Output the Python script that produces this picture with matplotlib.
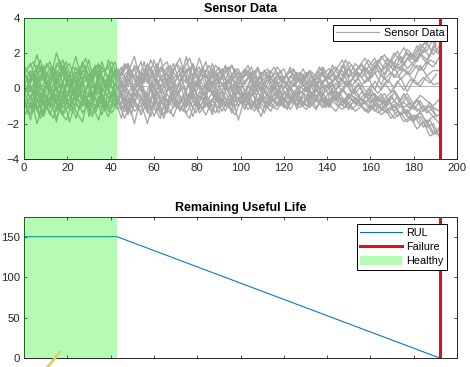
import numpy as np
import matplotlib
matplotlib.use('Agg')
import matplotlib.pyplot as plt
from matplotlib.lines import Line2D
from matplotlib.patches import Patch

plt.rcParams['font.family'] = ['Liberation Sans', 'DejaVu Sans']

# sensor values read every 3 cycles
cycles = np.arange(0, 193, 3)
s01 = [1.3,0.6,1.9,0.4,1.2,-0.2,1.0,1.4,0.3,1.5,0.6,1.1,0.2,
       1.6,0.5,1.2,0.1,1.3,0.7,1.0,0.0,1.2,0.4,1.4,0.3,0.9,
       1.3,0.2,1.0,0.6,1.2,0.1,0.8,1.1,0.2,0.9,0.5,1.0,0.3,
       0.7,1.1,0.2,0.9,0.6,1.0,0.3,0.8,1.1,0.5,1.3,0.7,1.4,
       1.0,1.6,1.1,1.8,1.3,2.0,1.5,2.2,1.8,2.5,2.1,2.8,2.6]
s02 = [0.8,1.4,0.2,1.1,0.5,2.0,0.7,0.1,1.2,0.4,1.6,-0.1,1.2,
       0.6,1.5,0.0,0.9,1.8,0.3,1.3,0.5,1.7,0.2,1.0,1.7,0.4,
       0.8,1.2,0.0,1.4,0.3,0.9,1.3,0.2,0.7,1.2,0.1,0.8,1.0,
       0.2,0.6,1.0,0.4,1.1,0.2,0.8,1.2,0.5,1.0,1.6,0.6,1.0,
       1.3,0.8,1.5,1.0,1.7,1.2,1.4,2.0,1.6,2.3,2.6,1.9,2.4]
s03 = [0.2,1.0,-0.3,0.9,1.5,0.2,1.3,-0.1,0.8,1.3,0.1,1.0,0.6,
       -0.2,1.1,0.7,1.4,-0.1,0.9,0.3,1.6,0.5,-0.2,0.9,0.4,1.8,
       0.0,0.7,1.5,0.1,0.8,1.2,-0.1,0.6,1.0,0.3,1.1,-0.1,0.6,
       0.9,0.0,0.7,0.3,0.8,-0.1,0.6,0.9,0.2,0.7,0.4,1.1,0.3,
       0.9,0.5,1.3,0.7,1.0,1.5,1.0,1.7,1.3,2.0,1.6,2.2,1.9]
s04 = [1.0,-0.2,0.8,1.3,-0.3,0.7,1.6,0.3,-0.2,1.0,0.8,-0.1,1.5,
       0.4,0.9,-0.3,0.7,1.1,-0.2,1.4,0.6,-0.1,1.2,0.3,0.8,-0.2,
       1.4,0.5,-0.1,1.0,0.2,1.3,0.4,0.9,-0.2,0.6,1.2,0.2,-0.1,
       0.8,0.4,1.2,0.0,0.5,0.9,0.1,1.1,0.0,0.6,1.0,0.2,0.8,
       1.4,0.4,0.9,0.2,1.1,0.6,1.2,0.8,1.3,1.0,1.5,1.2,1.8]
s05 = [-0.3,0.5,1.1,-0.5,0.3,1.0,-0.4,0.6,0.9,-0.6,0.4,1.2,-0.3,
       0.7,-0.5,0.5,1.0,-0.4,0.2,0.9,-0.6,0.6,0.8,-0.5,0.3,1.1,
       -0.3,0.4,0.8,-0.4,0.5,-0.1,0.7,-0.3,0.4,0.8,-0.2,0.3,0.7,
       -0.3,0.5,-0.1,0.6,0.1,0.5,-0.2,0.4,0.7,-0.1,0.5,0.1,0.9,
       0.2,0.6,-0.1,0.8,0.3,1.2,0.5,0.9,0.4,1.3,0.7,1.0,1.0]
s06 = [-1.0,0.1,-0.6,-1.4,0.2,-0.8,0.4,-1.1,-0.1,-0.7,0.5,-1.2,0.0,
       -0.5,-1.0,0.3,-0.9,-0.2,0.6,-1.1,-0.3,0.2,-0.8,-0.1,0.4,-1.0,
       0.1,-0.6,-0.2,0.4,-0.9,0.0,-0.5,0.3,-0.7,-0.1,0.4,-0.6,0.1,
       -0.4,0.4,-0.6,0.0,-0.3,0.3,-0.5,0.1,-0.4,0.3,-0.2,0.4,-0.3,
       0.2,-0.4,0.4,-0.1,0.5,0.0,0.6,-0.2,0.5,0.1,0.7,0.2,0.3]
s07 = [-0.6,-1.8,-0.3,-1.0,-0.2,-1.3,-0.4,-1.9,-0.7,-0.1,-1.1,-0.5,-1.5,
       -0.2,-0.9,-0.4,-1.4,-0.3,-0.8,-2.0,-0.6,-0.1,-1.2,-0.5,-0.9,-0.3,
       -1.1,-0.2,-0.8,-1.3,-0.4,-0.9,-0.1,-1.0,-0.4,-0.7,-1.1,0.0,-0.6,
       -0.9,-0.2,-0.7,-0.3,-0.9,-0.1,-0.6,-0.8,-0.2,-0.7,-0.1,-0.5,-0.8,
       -0.2,-0.6,-0.3,-0.8,-0.4,-0.1,-0.7,-0.3,-0.9,-0.4,-0.7,-1.0,-0.6]
s08 = [-1.2,-0.4,-2.0,-0.7,-1.5,-0.3,-1.1,-0.6,-1.7,-0.5,-1.3,-0.2,-0.9,
       -1.6,-0.4,-1.2,-0.7,-2.0,-0.5,-1.0,-0.3,-1.5,-0.6,-1.1,-0.4,-1.4,
       -0.7,-1.2,-0.3,-1.0,-0.6,-1.3,-0.4,-1.8,-0.5,-1.2,-0.2,-0.9,-1.3,
       -0.4,-0.9,-0.3,-1.0,-0.5,-0.8,-1.2,-0.3,-0.8,-0.5,-1.0,-0.4,-0.9,
       -0.6,-1.1,-0.5,-1.2,-0.7,-1.1,-0.9,-1.4,-1.0,-1.3,-1.2,-1.6,-1.5]
s09 = [-0.2,-1.1,-0.6,-1.6,-0.5,-1.9,-0.2,-1.2,-0.4,-1.0,-0.7,-1.4,-0.3,
       -1.1,-0.6,-1.7,-0.2,-0.9,-1.3,-0.4,-1.6,-0.7,-1.0,-0.2,-1.3,-0.5,
       -1.6,-0.4,-1.0,-0.6,-1.4,-0.2,-1.0,-0.5,-1.2,-0.3,-0.8,-1.4,-0.4,
       -1.0,-0.5,-1.2,-0.6,-1.0,-0.4,-1.1,-0.5,-0.9,-1.3,-0.7,-1.1,-0.6,
       -1.0,-1.3,-0.8,-1.2,-1.4,-1.0,-1.5,-1.2,-1.7,-1.4,-1.9,-1.6,-2.0]
s10 = [-1.6,-0.8,-1.2,-0.4,-1.1,-0.7,-1.5,-0.9,-0.3,-1.4,-0.8,-1.0,-0.5,
       -1.3,-0.9,-0.2,-1.2,-0.6,-1.5,-0.8,-0.4,-1.3,-0.9,-1.6,-0.6,-1.1,
       -0.3,-0.9,-1.5,-0.7,-1.1,-0.5,-1.4,-0.7,-0.3,-1.0,-0.6,-1.1,-0.8,
       -0.4,-1.1,-0.6,-0.9,-0.3,-1.0,-0.7,-1.1,-0.6,-0.9,-1.2,-0.8,-1.3,
       -1.0,-1.4,-0.9,-1.5,-1.2,-1.7,-1.4,-1.9,-1.5,-2.1,-1.8,-2.5,-2.4]
s11 = [0.4,-0.6,0.6,-0.2,-1.0,0.5,-0.4,0.7,-0.8,0.2,-0.5,0.9,-0.7,
       0.3,-0.2,-0.9,0.6,-0.5,0.1,-0.8,0.7,-0.3,0.4,-0.9,0.0,0.6,
       -0.6,0.2,-0.4,0.8,-0.6,0.3,-0.8,0.1,-0.4,0.5,-0.7,0.2,-0.3,
       0.4,-0.7,0.1,-0.5,0.4,-0.6,0.2,-0.4,0.3,-0.7,0.0,-0.5,-0.1,
       -0.7,-0.3,-1.0,-0.5,-1.2,-0.9,-1.5,-1.3,-1.8,-1.6,-2.2,-2.0,-2.8]
s12 = [-0.8,-1.5,0.2,-0.9,-0.5,-1.7,-0.7,-0.2,-1.3,-1.9,-0.2,-0.7,-1.1,
       -0.8,-0.3,-1.1,-0.6,-1.3,-1.0,-0.3,-1.1,-1.7,-0.3,-0.9,-1.2,-0.7,
       -0.2,-1.4,-0.9,-0.2,-0.7,-1.0,-0.6,-0.2,-1.0,-0.8,-1.2,-0.5,-1.0,
       -1.2,-0.6,-0.9,-0.2,-0.8,-1.1,-0.6,-0.2,-1.1,-0.4,-0.6,-1.2,-0.5,
       -0.9,-0.7,-1.3,-0.9,-0.6,-1.3,-1.0,-1.6,-1.9,-1.3,-2.0,-2.6,-2.2]
s13 = [0.9,0.3,1.3,0.7,0.0,1.4,0.9,0.6,1.8,0.2,0.7,1.3,0.9,
       1.2,0.1,0.8,1.4,0.6,1.5,0.3,0.8,1.1,1.5,0.5,1.1,0.7,
       0.5,1.7,0.6,1.1,0.7,0.5,1.3,0.6,1.1,0.7,0.4,1.0,0.5,
       1.2,0.6,0.9,0.7,0.4,1.0,0.7,0.3,0.9,1.2,0.7,1.5,1.0,
       0.6,1.2,1.7,0.9,1.4,1.0,1.8,1.1,1.5,1.9,1.4,2.4,2.0]
s14 = [-0.4,0.2,-1.3,-0.1,-0.9,0.1,-1.5,0.0,-0.6,0.6,-1.6,0.2,-0.5,
       -0.9,0.3,-0.6,-1.5,0.0,-0.4,-1.4,0.1,-0.6,-1.4,0.3,-0.5,-0.8,
       0.4,-1.1,-0.4,-1.5,0.2,-0.6,-1.2,-0.1,-0.8,0.2,-1.3,-0.2,-0.7,
       -0.1,-0.8,0.1,-1.2,-0.3,-0.5,0.0,-0.7,-1.0,-0.1,-0.8,-0.3,-0.6,
       -1.0,0.0,-0.8,-0.3,-1.0,-0.2,-0.9,-0.5,-1.2,-0.7,-1.4,-1.1,-1.3]

# second group, read half way between the first group's cycles
cycles_b = np.arange(1.5, 192, 3)
t01 = [1.1,1.5,0.5,1.4,0.8,1.6,0.3,1.2,0.9,1.7,0.4,1.3,1.0,
       1.5,0.6,1.4,0.9,1.2,0.3,1.6,0.8,1.1,0.5,1.4,1.0,1.7,
       0.6,1.2,0.4,1.3,0.8,0.3,1.1,0.6,1.3,0.2,0.9,0.6,1.2,
       0.4,0.8,1.1,0.3,0.9,0.5,1.2,0.4,1.3,0.7,1.6,0.8,1.2,
       1.7,1.0,1.4,1.9,1.2,1.7,2.3,1.6,2.4,2.0,2.9,2.4]
t02 = [0.3,0.9,-0.1,0.6,1.2,0.0,0.8,0.4,1.1,-0.2,0.7,1.0,0.2,
       1.2,-0.1,0.6,0.9,0.1,0.7,1.2,0.3,0.8,-0.1,0.5,1.1,0.2,
       0.7,-0.1,0.6,0.9,0.2,0.5,-0.1,0.6,0.8,0.0,0.4,0.7,-0.1,
       0.4,0.7,0.1,0.5,-0.1,0.4,0.6,0.0,0.4,0.7,0.2,0.5,0.9,
       0.3,0.7,1.0,0.5,0.9,0.6,1.1,0.8,1.3,1.0,1.6,1.4]
t03 = [-0.3,0.2,-0.6,0.4,-0.2,-0.8,0.3,-0.4,0.5,-0.7,0.1,-0.3,0.5,
       -0.5,0.2,-0.7,0.0,0.4,-0.6,0.3,-0.2,-0.7,0.4,-0.3,0.1,-0.6,
       0.3,-0.4,0.2,-0.6,0.3,-0.2,0.4,-0.5,0.1,-0.3,0.3,-0.5,0.2,
       -0.3,0.3,-0.4,0.1,-0.2,0.3,-0.4,0.2,-0.3,0.1,0.4,-0.2,0.3,
       -0.4,0.2,-0.3,0.3,-0.2,0.4,-0.1,0.5,0.2,0.6,0.3,0.8]
t04 = [-1.1,-0.5,-1.5,-0.8,-0.2,-1.2,-0.6,-1.4,-0.3,-0.9,-1.6,-0.5,-1.1,
       -0.3,-0.8,-1.3,-0.4,-1.0,-0.2,-1.2,-0.7,-1.5,-0.4,-0.9,-1.3,-0.3,
       -1.0,-0.5,-1.2,-0.2,-0.8,-1.1,-0.4,-0.9,-0.2,-1.1,-0.6,-0.9,-0.3,
       -0.8,-1.1,-0.4,-0.7,-1.0,-0.3,-0.6,-1.0,-0.4,-0.8,-1.1,-0.6,-1.0,
       -0.7,-1.2,-0.9,-1.3,-1.1,-1.6,-1.2,-1.8,-1.5,-2.2,-1.8,-2.6]
t05 = [-0.7,-1.3,-0.2,-1.0,-1.7,-0.4,-0.9,-0.3,-1.2,-0.6,-1.0,-1.8,-0.3,
       -0.8,-1.2,-0.5,-1.5,-0.3,-0.9,-1.3,-0.2,-1.7,-0.6,-1.1,-0.4,-0.8,
       -1.4,-0.2,-0.9,-0.5,-1.3,-0.6,-1.1,-0.3,-0.8,-1.3,-0.4,-1.1,-0.6,
       -1.0,-0.3,-0.8,-1.1,-0.5,-0.9,-0.2,-1.0,-0.6,-0.2,-0.8,-0.4,-0.7,
       -0.3,-0.8,-0.5,-0.9,-0.4,-1.0,-0.8,-1.2,-0.7,-1.3,-1.0,-1.2]
t06 = [0.6,-0.4,1.2,0.0,0.9,-0.5,1.1,-0.2,0.6,1.3,-0.4,0.8,0.1,
       0.7,1.1,-0.3,1.0,0.3,1.5,-0.2,0.8,0.4,1.3,-0.1,0.7,1.2,
       0.1,1.0,-0.2,0.7,1.1,-0.1,0.9,0.2,0.6,1.0,-0.1,0.8,0.3,
       1.0,-0.1,0.5,0.9,0.2,0.7,-0.1,0.6,1.0,0.3,0.9,0.1,0.7,
       1.1,0.6,1.3,0.8,1.6,1.1,1.4,1.9,1.5,2.2,1.8,2.7]
t07 = [-1.4,-0.7,-1.7,-1.0,-0.5,-1.3,-1.8,-0.8,-1.1,-0.4,-1.4,-0.9,-0.6,
       -1.4,-0.8,-1.7,-0.6,-1.2,-0.8,-1.6,-0.5,-1.0,-1.4,-0.7,-1.2,-1.7,
       -0.5,-1.2,-0.8,-1.4,-0.6,-1.0,-1.5,-0.6,-1.2,-0.7,-1.6,-0.5,-1.1,
       -0.7,-1.2,-0.5,-0.9,-1.2,-0.5,-0.8,-1.1,-0.5,-1.0,-0.6,-1.2,-0.8,
       -1.3,-1.0,-1.4,-1.1,-1.7,-1.3,-1.9,-1.6,-2.3,-1.9,-2.7,-2.5]
t08 = [0.0,0.7,-0.8,0.4,-0.3,0.9,-0.6,0.5,-0.1,0.8,-0.9,0.3,-0.2,
       0.6,-0.7,0.2,-0.4,0.7,-0.1,-0.8,0.5,-0.3,0.7,-0.5,0.1,-0.9,
       0.4,-0.2,0.6,-0.5,-0.1,0.5,-0.4,0.2,-0.6,0.4,-0.2,0.5,-0.4,
       0.2,-0.5,0.3,-0.3,0.1,-0.5,0.4,-0.2,0.2,-0.5,0.3,-0.3,0.2,
       -0.5,-0.1,-0.7,-0.3,-0.9,-0.5,-1.1,-0.8,-1.3,-1.0,-1.1,-1.6]
t09 = [1.0,0.4,1.6,0.2,1.1,0.7,1.5,0.1,1.2,0.5,0.9,1.4,0.0,
       1.0,0.4,1.3,0.8,0.1,1.1,0.6,1.4,0.2,0.9,1.3,0.5,0.1,
       1.1,0.7,1.3,0.2,0.8,1.2,0.3,0.6,1.0,0.1,0.8,1.1,0.2,
       0.7,0.2,1.0,0.5,0.8,0.2,0.9,0.5,0.8,0.2,1.0,1.3,0.6,
       1.2,0.8,1.6,1.1,1.5,2.1,1.3,2.0,1.7,2.5,3.0,2.2]
t10 = [-0.9,-0.1,-1.1,0.3,-0.6,-1.2,-0.1,-0.8,0.2,-1.1,-0.4,0.1,-1.3,
       -0.2,-0.7,0.2,-1.1,-0.4,-0.8,0.0,-1.3,-0.5,0.1,-1.0,-0.4,0.2,
       -0.8,-1.1,0.0,-0.7,-0.2,-1.0,0.1,-0.6,-0.9,0.0,-0.5,-0.9,0.1,
       -0.6,-0.1,-0.9,-0.3,0.1,-0.7,-0.2,-0.8,-0.1,-0.6,-0.9,-0.2,-0.5,
       -0.9,-0.3,-0.6,-1.1,-0.5,-0.9,-0.3,-1.1,-0.6,-1.3,-0.8,-1.6]

sensors = [s01, s02, s03, s04, s05, s06, s07, s08, s09, s10, s11, s12, s13, s14]
sensors_b = [t01, t02, t03, t04, t05, t06, t07, t08, t09, t10]
flat_cycles = [0, 192]
flat_sensor = [0.15, 0.15]

rul_cycles = [0, 43, 192]
rul_values = [150, 150, 0]
healthy_end = 43
failure_cycle = 192

x_ticks = [0, 20, 40, 60, 80, 100, 120, 140, 160, 180, 200]
y1_ticks = [-4, -2, 0, 2, 4]
y2_ticks = [0, 50, 100, 150]

grey = '#a6a6a6'
red = '#d3141e'
dark = '#262626'
W, H = 470, 367

fig = plt.figure(figsize=(4.70, 3.67), dpi=100)
ax1 = fig.add_axes([24/W, 1-159/H, 433/W, 141.5/H])
ax2 = fig.add_axes([24/W, 1-358/H, 433/W, 141.5/H])

for s in sensors:
    ax1.plot(cycles, s, color=grey, lw=0.95, zorder=2)
for s in sensors_b:
    ax1.plot(cycles_b, s, color=grey, lw=0.95, zorder=2)
ax1.plot(flat_cycles, flat_sensor, color=grey, lw=0.6, zorder=2)
ax2.plot(rul_cycles, rul_values, color='#0072bd', lw=0.75, zorder=2)

for ax in (ax1, ax2):
    ax.axvspan(0, healthy_end, color='#00f000', alpha=0.29, lw=0, zorder=3)
    ax.axvline(failure_cycle, color=red, lw=2.2, zorder=4)
    ax.set_xlim(0, 200)
    ax.set_xticks(x_ticks)
    ax.tick_params(direction='in', top=True, right=True, length=2.5, width=0.6,
                   color=dark, labelcolor=dark, labelsize=8.2, pad=3)
    for sp in ax.spines.values():
        sp.set_linewidth(0.7)
        sp.set_color(dark)

ax1.set_ylim(-4, 4)
ax1.set_yticks(y1_ticks)
ax1.set_title('Sensor Data', fontsize=9, fontweight='bold', pad=4.2)
ax1.legend(handles=[Line2D([], [], color=grey, lw=0.85, label='Sensor Data')],
           loc='upper right', bbox_to_anchor=(0.977, 0.945), borderaxespad=0,
           fontsize=7.8, fancybox=False, framealpha=1, edgecolor='black',
           handlelength=4.0, handletextpad=0.4, borderpad=0.25,
           handleheight=0.6).get_frame().set_linewidth(0.7)

ax2.set_ylim(0, 175)
ax2.set_yticks(y2_ticks)
ax2.set_xticklabels([])
ax2.set_title('Remaining Useful Life', fontsize=9, fontweight='bold', pad=4.2)
ax2.legend(handles=[Line2D([], [], color='#0072bd', lw=0.75, label='RUL'),
                    Line2D([], [], color=red, lw=2.2, label='Failure'),
                    Patch(facecolor='#b5fbb5', edgecolor='none', label='Healthy')],
           loc='upper right', bbox_to_anchor=(0.977, 0.945), borderaxespad=0,
           fontsize=7.8, fancybox=False, framealpha=1, edgecolor='black',
           handlelength=3.9, handletextpad=0.4, borderpad=0.3,
           labelspacing=0.38, handleheight=0.9).get_frame().set_linewidth(0.7)

# yellow scratch at the bottom edge of the picture
fig.add_artist(Line2D([47/W, 60/W], [0, 15/H], color='#c8c8a0', lw=1.6))
fig.add_artist(Line2D([49/W, 60/W], [0, 14/H], color='#f2e020', lw=0.9))

fig.savefig('out.png', dpi=100)
